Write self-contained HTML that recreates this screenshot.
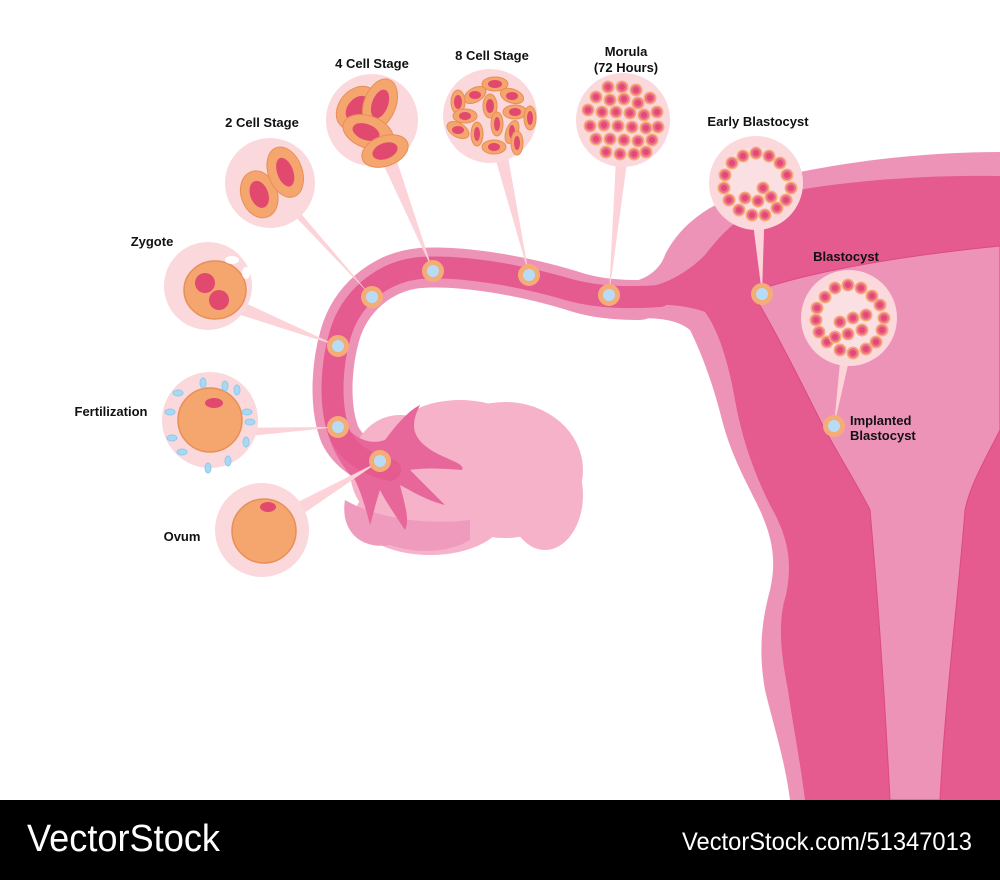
<!DOCTYPE html>
<html><head><meta charset="utf-8"><style>
html,body{margin:0;padding:0;background:#fff}
svg{display:block}
text{font-family:"Liberation Sans",sans-serif}
.l{font-weight:bold;font-size:13px;fill:#111}
</style></head><body>
<svg width="1000" height="880" viewBox="0 0 1000 880" xmlns="http://www.w3.org/2000/svg">
<defs>
<g id="dot"><circle r="11" fill="#f5ad78"/><circle r="6" fill="#b8dcf6"/></g>
<g id="mc"><circle r="6.5" fill="#f5ad78"/><circle r="5" fill="#ee6d8c"/><circle r="3" fill="#e14a75"/></g>
</defs>
<rect width="1000" height="880" fill="#fff"/>

<!-- Uterus outer -->
<path d="M630,282 C645,280 660,270 665,255 C675,235 690,220 710,208 C740,192 760,184 800,172 C870,158 940,152 1000,152 L1000,800 L790,800 C785,760 772,720 765,690 C758,650 762,620 770,590 C778,555 770,530 755,500 C740,470 730,450 722,420 C712,380 700,350 690,330 C675,318 655,318 630,318 Z" fill="#ee93b8"/>
<!-- dark wall -->
<path d="M630,290 C660,288 685,275 705,255 C735,215 770,195 810,188 C880,178 940,175 1000,176 L1000,800 L805,800 C800,760 792,720 788,690 C780,650 778,620 786,595 C792,565 790,540 770,505 C755,475 742,440 735,400 C728,360 718,330 705,312 C685,304 655,304 630,304 Z" fill="#e55a8f"/>
<!-- cavity -->
<path d="M752,292 C800,275 880,258 1000,246 L1000,430 C985,460 970,485 965,510 C958,600 945,700 940,800 L890,800 C885,700 878,600 870,510 C855,480 835,450 820,420 C800,380 775,330 752,292 Z" fill="#ee93b8" stroke="#dd4a80" stroke-width="1"/>

<!-- Fallopian tube -->
<path d="M640,300 C610,300 590,297 570,290 C520,275 460,265 420,268 C380,272 350,300 340,335 C330,370 330,410 340,435 C350,455 370,465 390,470" fill="none" stroke="#ee93b8" stroke-width="40" stroke-linecap="round"/>

<!-- Ovary -->
<g fill="#f5b2c8">
<ellipse cx="505" cy="470" rx="78" ry="68"/>
<ellipse cx="545" cy="495" rx="38" ry="55"/>
<ellipse cx="430" cy="515" rx="75" ry="40"/>
<ellipse cx="400" cy="470" rx="50" ry="55"/>
<ellipse cx="460" cy="430" rx="60" ry="30"/>
</g>
<path d="M345,500 C340,530 360,550 390,545 C420,555 450,552 470,540 L470,520 C430,525 380,520 345,500 Z" fill="#ef9bbd"/>
<!-- fimbriae -->
<path d="M340,420 C355,440 370,445 385,440 C400,420 410,410 420,405 C410,425 410,440 440,455 C455,462 465,465 462,470 C440,468 420,468 410,470 C425,485 440,500 445,505 C425,500 410,490 400,485 C405,505 410,520 405,530 C395,515 385,500 380,490 C375,505 372,520 370,525 C365,505 360,490 355,480 C345,470 335,455 330,440 Z" fill="#e8679a"/>
<path d="M660,296 C630,298 600,298 570,290 C520,275 460,265 420,268 C380,272 350,300 340,335 C330,370 330,410 340,435 C350,455 370,465 390,470" fill="none" stroke="#e55a8f" stroke-width="22" stroke-linecap="round"/>

<!-- Connector wedges -->
<g fill="#fbd3d8">
<polygon points="262,520 380,461 262,542"/>
<polygon points="210,428 338,427 210,440"/>
<polygon points="230,296 338,346 225,310"/>
<polygon points="270,190 372,297 285,195"/>
<polygon points="372,140 433,271 390,140"/>
<polygon points="490,140 529,275 505,140"/>
<polygon points="617,140 609,295 630,140"/>
<polygon points="750,200 762,294 765,200"/>
<polygon points="843,330 834,426 856,330"/>
</g>

<!-- Dots -->
<use href="#dot" x="380" y="461"/>
<use href="#dot" x="338" y="427"/>
<use href="#dot" x="338" y="346"/>
<use href="#dot" x="372" y="297"/>
<use href="#dot" x="433" y="271"/>
<use href="#dot" x="529" y="275"/>
<use href="#dot" x="609" y="295"/>
<use href="#dot" x="762" y="294"/>
<use href="#dot" x="834" y="426"/>

<!-- Bubbles -->
<g fill="#fbd8dc">
<circle cx="262" cy="530" r="47"/>
<circle cx="210" cy="420" r="48"/>
<circle cx="208" cy="286" r="44"/>
<circle cx="270" cy="183" r="45"/>
<circle cx="372" cy="120" r="46"/>
<circle cx="490" cy="116" r="47"/>
<circle cx="623" cy="120" r="47"/>
<circle cx="756" cy="183" r="47"/>
<circle cx="849" cy="318" r="48"/>
</g>

<!-- Ovum -->
<circle cx="264" cy="531" r="32" fill="#f5a56e" stroke="#e88f55" stroke-width="1.5"/>
<ellipse cx="268" cy="507" rx="8" ry="5" fill="#e14a6e"/>
<!-- Fertilization -->
<circle cx="210" cy="420" r="32" fill="#f5a56e" stroke="#e88f55" stroke-width="1.5"/>
<ellipse cx="214" cy="403" rx="9" ry="5" fill="#e14a6e"/>
<g fill="#a9d8f2" stroke="#8ccbee" stroke-width="1">
<ellipse cx="203" cy="383" rx="3" ry="5"/><ellipse cx="225" cy="386" rx="3" ry="5"/><ellipse cx="237" cy="390" rx="3" ry="5"/>
<ellipse cx="247" cy="412" rx="5" ry="3"/><ellipse cx="250" cy="422" rx="5" ry="3"/><ellipse cx="246" cy="442" rx="3" ry="5"/>
<ellipse cx="228" cy="461" rx="3" ry="5"/><ellipse cx="208" cy="468" rx="3" ry="5"/><ellipse cx="178" cy="393" rx="5" ry="3"/>
<ellipse cx="170" cy="412" rx="5" ry="3"/><ellipse cx="172" cy="438" rx="5" ry="3"/><ellipse cx="182" cy="452" rx="5" ry="3"/>
</g>
<!-- Zygote -->
<ellipse cx="215" cy="290" rx="31" ry="29" fill="#f5a56e" stroke="#e88f55" stroke-width="1.5"/>
<circle cx="205" cy="283" r="10" fill="#e14a6e"/><circle cx="219" cy="300" r="10" fill="#e14a6e"/>
<ellipse cx="232" cy="260" rx="7" ry="4" fill="#fff"/><ellipse cx="246" cy="273" rx="4" ry="6" fill="#fff"/>
<!-- 2 cell -->
<g transform="rotate(-20 270 183)">
<ellipse cx="256" cy="190" rx="18" ry="24" fill="#f5a56e" stroke="#e88f55"/><ellipse cx="256" cy="190" rx="9" ry="14" fill="#e14a6e"/>
<ellipse cx="288" cy="178" rx="17" ry="26" fill="#f5a56e" stroke="#e88f55"/><ellipse cx="288" cy="178" rx="8" ry="15" fill="#e14a6e"/>
</g>
<!-- 4 cell -->
<g stroke="#e88f55">
<ellipse cx="357" cy="108" rx="18" ry="24" fill="#f5a56e" transform="rotate(40 357 108)"/><ellipse cx="357" cy="108" rx="9" ry="14" fill="#e14a6e" transform="rotate(40 357 108)" stroke="none"/>
<ellipse cx="380" cy="104" rx="16" ry="26" fill="#f5a56e" transform="rotate(20 380 104)"/><ellipse cx="380" cy="104" rx="8" ry="15" fill="#e14a6e" transform="rotate(20 380 104)" stroke="none"/>
<ellipse cx="368" cy="132" rx="26" ry="16" fill="#f5a56e" transform="rotate(20 368 132)"/><ellipse cx="366" cy="132" rx="14" ry="8" fill="#e14a6e" transform="rotate(20 366 132)" stroke="none"/>
<ellipse cx="385" cy="151" rx="24" ry="15" fill="#f5a56e" transform="rotate(-20 385 151)"/><ellipse cx="385" cy="151" rx="13" ry="8" fill="#e14a6e" transform="rotate(-20 385 151)" stroke="none"/>
</g>
<!-- 8 cell -->
<g stroke="#e88f55">
<ellipse cx="495" cy="84" rx="13" ry="7" fill="#f5a56e"/><ellipse cx="495" cy="84" rx="7" ry="4" fill="#e14a6e" stroke="none"/>
<ellipse cx="475" cy="95" rx="12" ry="7" fill="#f5a56e" transform="rotate(-30 475 95)"/><ellipse cx="475" cy="95" rx="6" ry="4" fill="#e14a6e" stroke="none"/>
<ellipse cx="512" cy="96" rx="12" ry="7" fill="#f5a56e" transform="rotate(20 512 96)"/><ellipse cx="512" cy="96" rx="6" ry="4" fill="#e14a6e" stroke="none"/>
<ellipse cx="458" cy="102" rx="7" ry="12" fill="#f5a56e"/><ellipse cx="458" cy="102" rx="4" ry="7" fill="#e14a6e" stroke="none"/>
<ellipse cx="490" cy="106" rx="7" ry="12" fill="#f5a56e"/><ellipse cx="490" cy="106" rx="4" ry="7" fill="#e14a6e" stroke="none"/>
<ellipse cx="515" cy="112" rx="12" ry="7" fill="#f5a56e"/><ellipse cx="515" cy="112" rx="6" ry="4" fill="#e14a6e" stroke="none"/>
<ellipse cx="465" cy="116" rx="12" ry="7" fill="#f5a56e"/><ellipse cx="465" cy="116" rx="6" ry="4" fill="#e14a6e" stroke="none"/>
<ellipse cx="530" cy="118" rx="6" ry="12" fill="#f5a56e"/><ellipse cx="530" cy="118" rx="3" ry="7" fill="#e14a6e" stroke="none"/>
<ellipse cx="497" cy="124" rx="6" ry="12" fill="#f5a56e"/><ellipse cx="497" cy="124" rx="3" ry="7" fill="#e14a6e" stroke="none"/>
<ellipse cx="458" cy="130" rx="12" ry="7" fill="#f5a56e" transform="rotate(30 458 130)"/><ellipse cx="458" cy="130" rx="6" ry="4" fill="#e14a6e" stroke="none"/>
<ellipse cx="512" cy="132" rx="6" ry="12" fill="#f5a56e" transform="rotate(20 512 132)"/><ellipse cx="512" cy="132" rx="3" ry="7" fill="#e14a6e" stroke="none"/>
<ellipse cx="477" cy="134" rx="6" ry="12" fill="#f5a56e"/><ellipse cx="477" cy="134" rx="3" ry="7" fill="#e14a6e" stroke="none"/>
<ellipse cx="494" cy="147" rx="12" ry="7" fill="#f5a56e"/><ellipse cx="494" cy="147" rx="6" ry="4" fill="#e14a6e" stroke="none"/>
<ellipse cx="517" cy="143" rx="6" ry="12" fill="#f5a56e"/><ellipse cx="517" cy="143" rx="3" ry="7" fill="#e14a6e" stroke="none"/>
</g>
<!-- Morula -->
<g>
<use href="#mc" x="608" y="87"/><use href="#mc" x="622" y="87"/><use href="#mc" x="636" y="90"/>
<use href="#mc" x="596" y="97"/><use href="#mc" x="610" y="100"/><use href="#mc" x="624" y="99"/><use href="#mc" x="638" y="103"/><use href="#mc" x="650" y="98"/>
<use href="#mc" x="588" y="110"/><use href="#mc" x="602" y="112"/><use href="#mc" x="616" y="112"/><use href="#mc" x="630" y="113"/><use href="#mc" x="644" y="115"/><use href="#mc" x="657" y="112"/>
<use href="#mc" x="590" y="126"/><use href="#mc" x="604" y="125"/><use href="#mc" x="618" y="126"/><use href="#mc" x="632" y="127"/><use href="#mc" x="646" y="128"/><use href="#mc" x="658" y="127"/>
<use href="#mc" x="596" y="139"/><use href="#mc" x="610" y="139"/><use href="#mc" x="624" y="140"/><use href="#mc" x="638" y="141"/><use href="#mc" x="652" y="140"/>
<use href="#mc" x="606" y="152"/><use href="#mc" x="620" y="154"/><use href="#mc" x="634" y="154"/><use href="#mc" x="646" y="152"/>
</g>
<!-- Early blastocyst -->
<circle cx="756" cy="183" r="36" fill="#fbe0e3"/>
<g>
<use href="#mc" x="756" y="153"/><use href="#mc" x="743" y="156"/><use href="#mc" x="769" y="156"/><use href="#mc" x="732" y="163"/><use href="#mc" x="780" y="163"/>
<use href="#mc" x="725" y="175"/><use href="#mc" x="787" y="175"/><use href="#mc" x="724" y="188"/><use href="#mc" x="791" y="188"/><use href="#mc" x="729" y="200"/>
<use href="#mc" x="786" y="200"/><use href="#mc" x="739" y="210"/><use href="#mc" x="752" y="215"/><use href="#mc" x="765" y="215"/><use href="#mc" x="777" y="208"/>
<use href="#mc" x="745" y="198"/><use href="#mc" x="758" y="201"/><use href="#mc" x="771" y="197"/><use href="#mc" x="763" y="188"/>
</g>
<!-- Blastocyst -->
<circle cx="849" cy="318" r="38" fill="#fbe0e3"/>
<g>
<use href="#mc" x="848" y="285"/><use href="#mc" x="835" y="288"/><use href="#mc" x="861" y="288"/><use href="#mc" x="825" y="297"/><use href="#mc" x="872" y="296"/>
<use href="#mc" x="817" y="308"/><use href="#mc" x="880" y="305"/><use href="#mc" x="816" y="320"/><use href="#mc" x="884" y="318"/><use href="#mc" x="819" y="332"/>
<use href="#mc" x="882" y="330"/><use href="#mc" x="827" y="342"/><use href="#mc" x="876" y="342"/><use href="#mc" x="840" y="350"/><use href="#mc" x="853" y="353"/><use href="#mc" x="866" y="349"/>
<use href="#mc" x="840" y="322"/><use href="#mc" x="853" y="318"/><use href="#mc" x="866" y="315"/><use href="#mc" x="848" y="334"/><use href="#mc" x="862" y="330"/><use href="#mc" x="835" y="337"/>
</g>

<!-- Labels -->
<g class="l">
<text class="l" x="182" y="541" text-anchor="middle">Ovum</text>
<text class="l" x="111" y="416" text-anchor="middle">Fertilization</text>
<text class="l" x="152" y="246" text-anchor="middle">Zygote</text>
<text class="l" x="262" y="127" text-anchor="middle">2 Cell Stage</text>
<text class="l" x="372" y="68" text-anchor="middle">4 Cell Stage</text>
<text class="l" x="492" y="60" text-anchor="middle">8 Cell Stage</text>
<text class="l" x="626" y="56" text-anchor="middle">Morula</text>
<text class="l" x="626" y="72" text-anchor="middle">(72 Hours)</text>
<text class="l" x="758" y="126" text-anchor="middle">Early Blastocyst</text>
<text class="l" x="846" y="261" text-anchor="middle">Blastocyst</text>
<text class="l" x="850" y="425">Implanted</text>
<text class="l" x="850" y="440">Blastocyst</text>
</g>

<!-- Footer -->
<rect x="0" y="800" width="1000" height="80" fill="#000"/>
<text x="27" y="851" font-size="38" fill="#fff" textLength="193" lengthAdjust="spacingAndGlyphs">VectorStock</text>
<text x="682" y="850" font-size="25" fill="#fff" textLength="290" lengthAdjust="spacingAndGlyphs">VectorStock.com/51347013</text>
</svg>
</body></html>
